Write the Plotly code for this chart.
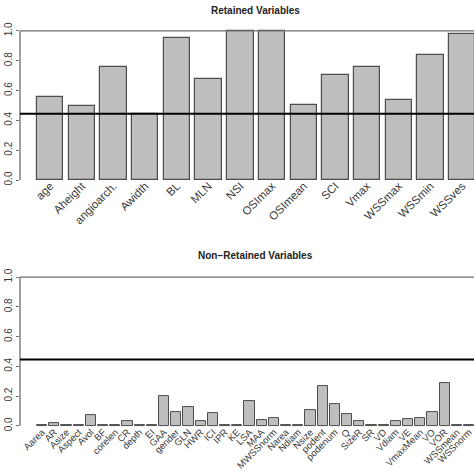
import plotly.graph_objects as go

W = H = 474

retained_vars = ["age", "Aheight", "angioarch.", "Awidth", "BL", "MLN", "NSI", "OSImax",
                 "OSImean", "SCI", "Vmax", "WSSmax", "WSSmin", "WSSves"]
retained_vals = [0.556, 0.500, 0.756, 0.445, 0.954, 0.681, 1.000, 1.000,
                 0.503, 0.705, 0.758, 0.536, 0.842, 0.978]

nonret_vars = ["Aarea", "AR", "Asize", "Aspect", "Avol", "BF", "corelen", "CR", "depth", "EI",
               "GAA", "gender", "GLN", "HWR", "ICI", "IPR", "KE", "LSA", "MAA", "MWSSnorm",
               "Narea", "Ndiam", "Nsize", "podent", "podenum", "Q", "SizeR", "SR", "VD", "Vdiam",
               "VE", "VmaxMean", "VO", "VOR", "WSSmean", "WSSnorm"]
nonret_vals = [0.003, 0.021, 0.006, 0.005, 0.070, 0.003, 0.005, 0.030, 0.002, 0.005,
               0.200, 0.095, 0.128, 0.030, 0.084, 0.003, 0.002, 0.167, 0.040, 0.053,
               0.003, 0.002, 0.106, 0.267, 0.143, 0.081, 0.035, 0.005, 0.004, 0.033,
               0.048, 0.055, 0.090, 0.290, 0.003, 0.005]

threshold = 0.445
yticks = [0.0, 0.2, 0.4, 0.6, 0.8, 1.0]

BAR_FILL = "#bebebe"
BAR_LINE = "#4d4d4d"
AXIS_COL = "#6e6e6e"
TEXT_COL = "#3a3a3a"
FONT = "Liberation Sans, Arial, sans-serif"


def py(px):
    return 1 - px / H


fig = go.Figure()

fig.add_trace(go.Bar(x=retained_vars, y=retained_vals, width=1 / 1.2,
                     marker=dict(color=BAR_FILL, line=dict(color=BAR_LINE, width=1.2)),
                     xaxis="x", yaxis="y", showlegend=False))
fig.add_trace(go.Bar(x=nonret_vars, y=nonret_vals, width=1 / 1.2,
                     marker=dict(color=BAR_FILL, line=dict(color=BAR_LINE, width=1)),
                     xaxis="x2", yaxis="y2", showlegend=False))

# pixel geometry
x_left = 20
top_y1, top_y0 = 25.3, 177.0
bot_y1, bot_y0 = 275.7, 427.0
pad = 0.02


def ydomain(y1px, y0px):
    s = (y0px - y1px)
    return [py(y0px + pad * s), py(y1px - pad * s)]


axis_common = dict(showgrid=False, zeroline=False, showline=False)

fig.update_layout(
    width=W, height=H,
    margin=dict(l=0, r=0, t=0, b=0),
    paper_bgcolor="white", plot_bgcolor="white",
    font=dict(family=FONT, color=TEXT_COL),
    bargap=0,
    xaxis=dict(domain=[x_left / W, 1], range=[-0.953, 13.373], anchor="free",
               position=py(173),
               tickangle=-45, tickfont=dict(size=11.5, color=TEXT_COL),
               ticks="", **axis_common),
    yaxis=dict(domain=ydomain(top_y1, top_y0), range=[-pad, 1 + pad], anchor="x",
               tickvals=yticks, ticktext=[f"{v:.1f}" for v in yticks],
               tickangle=-90, tickfont=dict(size=10, color=TEXT_COL),
               ticks="outside", ticklen=3, tickcolor=AXIS_COL, **axis_common),
    xaxis2=dict(domain=[x_left / W, 1], range=[-1.8186, 35.404], anchor="free",
                position=py(425),
                tickangle=-45, tickfont=dict(size=9.5, color=TEXT_COL),
                ticks="", **axis_common),
    yaxis2=dict(domain=ydomain(bot_y1, bot_y0), range=[-pad, 1 + pad], anchor="x2",
                tickvals=yticks, ticktext=[f"{v:.1f}" for v in yticks],
                tickangle=-90, tickfont=dict(size=10, color=TEXT_COL),
                ticks="outside", ticklen=3, tickcolor=AXIS_COL, **axis_common),
)

shapes = []
for yref in ["y", "y2"]:
    # y axis line from 0 to 1
    shapes.append(dict(type="line", xref="paper", yref=yref, x0=x_left / W, x1=x_left / W,
                       y0=0, y1=1, line=dict(color=AXIS_COL, width=1.3)))
    # top reference line at 1.0
    shapes.append(dict(type="line", xref="paper", yref=yref, x0=x_left / W, x1=1,
                       y0=1, y1=1, line=dict(color=AXIS_COL, width=1.3)))
    # threshold line
    shapes.append(dict(type="line", xref="paper", yref=yref, x0=x_left / W, x1=1,
                       y0=threshold, y1=threshold, line=dict(color="black", width=2)))
fig.update_layout(shapes=shapes)

fig.add_annotation(text="<b>Retained Variables</b>", xref="paper", yref="paper",
                   x=256 / W, y=py(4.5), showarrow=False,
                   font=dict(size=10, color="#222"), xanchor="center", yanchor="middle")
fig.add_annotation(text="<b>Non\u2212Retained Variables</b>", xref="paper", yref="paper",
                   x=256 / W, y=py(254), showarrow=False,
                   font=dict(size=10, color="#222"), xanchor="center", yanchor="middle")

fig.write_html("out.html")
